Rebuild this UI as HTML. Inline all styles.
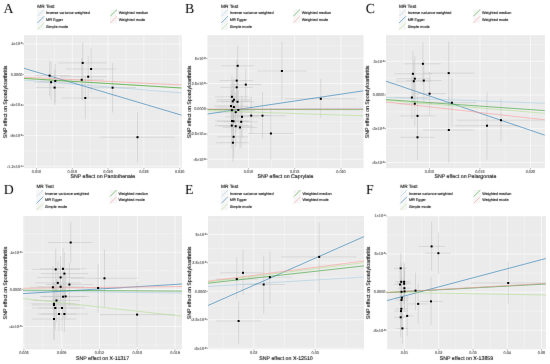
<!DOCTYPE html><html><head><meta charset="utf-8"><style>html,body{margin:0;padding:0;background:#fff;width:550px;height:364px;overflow:hidden;position:relative}svg text{font-family:"Liberation Sans",sans-serif;text-rendering:geometricPrecision;stroke-width:0.1px;}svg text.ser{font-family:"Liberation Serif",serif;stroke:none;text-rendering:geometricPrecision}</style></head><body><svg width="550" height="364" viewBox="0 0 550 364" style="position:absolute;left:0;top:0"><g><rect width="550" height="364" fill="#fff"/><clipPath id="cA"><rect x="24" y="35.1" width="157.7" height="133.1"/></clipPath><rect x="24" y="35.1" width="157.7" height="133.1" fill="#EBEBEB"/><g clip-path="url(#cA)" stroke="#fff"><line x1="54.4" y1="35.1" x2="54.4" y2="168.2" stroke-width="0.3"/><line x1="90.2" y1="35.1" x2="90.2" y2="168.2" stroke-width="0.3"/><line x1="126" y1="35.1" x2="126" y2="168.2" stroke-width="0.3"/><line x1="161.8" y1="35.1" x2="161.8" y2="168.2" stroke-width="0.3"/><line x1="24" y1="59.27" x2="181.7" y2="59.27" stroke-width="0.3"/><line x1="24" y1="89.82" x2="181.7" y2="89.82" stroke-width="0.3"/><line x1="24" y1="120.37" x2="181.7" y2="120.37" stroke-width="0.3"/><line x1="24" y1="150.92" x2="181.7" y2="150.92" stroke-width="0.3"/><line x1="36.5" y1="35.1" x2="36.5" y2="168.2" stroke-width="0.6"/><line x1="72.3" y1="35.1" x2="72.3" y2="168.2" stroke-width="0.6"/><line x1="108.1" y1="35.1" x2="108.1" y2="168.2" stroke-width="0.6"/><line x1="143.9" y1="35.1" x2="143.9" y2="168.2" stroke-width="0.6"/><line x1="179.7" y1="35.1" x2="179.7" y2="168.2" stroke-width="0.6"/><line x1="24" y1="44" x2="181.7" y2="44" stroke-width="0.6"/><line x1="24" y1="74.55" x2="181.7" y2="74.55" stroke-width="0.6"/><line x1="24" y1="105.1" x2="181.7" y2="105.1" stroke-width="0.6"/><line x1="24" y1="135.65" x2="181.7" y2="135.65" stroke-width="0.6"/><line x1="24" y1="166.2" x2="181.7" y2="166.2" stroke-width="0.6"/></g><g clip-path="url(#cA)" stroke="#C2C2C2" stroke-width="0.5"><line x1="49.6" y1="60.7" x2="49.6" y2="96"/><line x1="35" y1="75.6" x2="70" y2="75.6"/><line x1="51.1" y1="62" x2="51.1" y2="100"/><line x1="34" y1="82.2" x2="78" y2="82.2"/><line x1="55.3" y1="64" x2="55.3" y2="103.3"/><line x1="40" y1="81" x2="72" y2="81"/><line x1="54.6" y1="70" x2="54.6" y2="105"/><line x1="36.3" y1="87.6" x2="64.3" y2="87.6"/><line x1="82.7" y1="42.7" x2="82.7" y2="100.5"/><line x1="58" y1="62.9" x2="107" y2="62.9"/><line x1="91.1" y1="47.5" x2="91.1" y2="92.7"/><line x1="65.8" y1="69" x2="115.8" y2="69"/><line x1="88.2" y1="56" x2="88.2" y2="98"/><line x1="60" y1="76.7" x2="107" y2="76.7"/><line x1="81.7" y1="58" x2="81.7" y2="100"/><line x1="56" y1="79.8" x2="104" y2="79.8"/><line x1="85.3" y1="76" x2="85.3" y2="119"/><line x1="62" y1="98" x2="107" y2="98"/><line x1="112.6" y1="63" x2="112.6" y2="112.5"/><line x1="88" y1="87.7" x2="136" y2="87.7"/><line x1="137.5" y1="112" x2="137.5" y2="162.5"/><line x1="99.6" y1="137.2" x2="175" y2="137.2"/></g><g clip-path="url(#cA)" stroke-width="0.95" stroke-opacity="0.62"><line x1="24" y1="80.1" x2="181.7" y2="92.9" stroke="#a6cee3"/><line x1="24" y1="68.3" x2="181.7" y2="115.2" stroke="#1f78b4"/><line x1="24" y1="78.4" x2="181.7" y2="88" stroke="#b2df8a"/><line x1="24" y1="78.4" x2="181.7" y2="88" stroke="#33a02c"/><line x1="24" y1="77.2" x2="181.7" y2="85" stroke="#fb9a99"/></g><rect x="48.6" y="74.6" width="2" height="2" fill="#000"/><rect x="50.1" y="81.2" width="2" height="2" fill="#000"/><rect x="54.3" y="80" width="2" height="2" fill="#000"/><rect x="53.6" y="86.6" width="2" height="2" fill="#000"/><rect x="81.7" y="61.9" width="2" height="2" fill="#000"/><rect x="90.1" y="68" width="2" height="2" fill="#000"/><rect x="87.2" y="75.7" width="2" height="2" fill="#000"/><rect x="80.7" y="78.8" width="2" height="2" fill="#000"/><rect x="84.3" y="97" width="2" height="2" fill="#000"/><rect x="111.6" y="86.7" width="2" height="2" fill="#000"/><rect x="136.5" y="136.2" width="2" height="2" fill="#000"/><line x1="36.5" y1="168.2" x2="36.5" y2="169.4" stroke="#333" stroke-width="0.4"/><line x1="72.3" y1="168.2" x2="72.3" y2="169.4" stroke="#333" stroke-width="0.4"/><line x1="108.1" y1="168.2" x2="108.1" y2="169.4" stroke="#333" stroke-width="0.4"/><line x1="143.9" y1="168.2" x2="143.9" y2="169.4" stroke="#333" stroke-width="0.4"/><line x1="179.7" y1="168.2" x2="179.7" y2="169.4" stroke="#333" stroke-width="0.4"/><line x1="22.8" y1="44" x2="24" y2="44" stroke="#333" stroke-width="0.4"/><line x1="22.8" y1="74.55" x2="24" y2="74.55" stroke="#333" stroke-width="0.4"/><line x1="22.8" y1="105.1" x2="24" y2="105.1" stroke="#333" stroke-width="0.4"/><line x1="22.8" y1="135.65" x2="24" y2="135.65" stroke="#333" stroke-width="0.4"/><line x1="22.8" y1="166.2" x2="24" y2="166.2" stroke="#333" stroke-width="0.4"/><rect x="37.2" y="9.59" width="7.1" height="6.72" fill="#F6F6F6"/><line x1="37.3" y1="16.4" x2="44.2" y2="9.5" stroke="#a6cee3" stroke-width="0.9" stroke-opacity="0.62"/><rect x="37.2" y="16.31" width="7.1" height="6.72" fill="#F6F6F6"/><line x1="37.3" y1="23.12" x2="44.2" y2="16.22" stroke="#1f78b4" stroke-width="0.9" stroke-opacity="0.62"/><rect x="37.2" y="23.03" width="7.1" height="6.72" fill="#F6F6F6"/><line x1="37.3" y1="29.84" x2="44.2" y2="22.94" stroke="#b2df8a" stroke-width="0.9" stroke-opacity="0.62"/><rect x="110" y="9.59" width="7.1" height="6.72" fill="#F6F6F6"/><line x1="110.1" y1="16.4" x2="117" y2="9.5" stroke="#33a02c" stroke-width="0.9" stroke-opacity="0.62"/><rect x="110" y="16.31" width="7.1" height="6.72" fill="#F6F6F6"/><line x1="110.1" y1="23.12" x2="117" y2="16.22" stroke="#fb9a99" stroke-width="0.9" stroke-opacity="0.62"/><clipPath id="cB"><rect x="207.4" y="35.1" width="156.1" height="133.1"/></clipPath><rect x="207.4" y="35.1" width="156.1" height="133.1" fill="#EBEBEB"/><g clip-path="url(#cB)" stroke="#fff"><line x1="225.25" y1="35.1" x2="225.25" y2="168.2" stroke-width="0.3"/><line x1="271.55" y1="35.1" x2="271.55" y2="168.2" stroke-width="0.3"/><line x1="317.85" y1="35.1" x2="317.85" y2="168.2" stroke-width="0.3"/><line x1="207.4" y1="45.79" x2="363.5" y2="45.79" stroke-width="0.3"/><line x1="207.4" y1="71.01" x2="363.5" y2="71.01" stroke-width="0.3"/><line x1="207.4" y1="96.23" x2="363.5" y2="96.23" stroke-width="0.3"/><line x1="207.4" y1="121.45" x2="363.5" y2="121.45" stroke-width="0.3"/><line x1="207.4" y1="146.67" x2="363.5" y2="146.67" stroke-width="0.3"/><line x1="248.4" y1="35.1" x2="248.4" y2="168.2" stroke-width="0.6"/><line x1="294.7" y1="35.1" x2="294.7" y2="168.2" stroke-width="0.6"/><line x1="341" y1="35.1" x2="341" y2="168.2" stroke-width="0.6"/><line x1="207.4" y1="58.4" x2="363.5" y2="58.4" stroke-width="0.6"/><line x1="207.4" y1="83.62" x2="363.5" y2="83.62" stroke-width="0.6"/><line x1="207.4" y1="108.84" x2="363.5" y2="108.84" stroke-width="0.6"/><line x1="207.4" y1="134.06" x2="363.5" y2="134.06" stroke-width="0.6"/><line x1="207.4" y1="159.28" x2="363.5" y2="159.28" stroke-width="0.6"/></g><g clip-path="url(#cB)" stroke="#C2C2C2" stroke-width="0.5"><line x1="237.7" y1="45.6" x2="237.7" y2="88"/><line x1="221.3" y1="65.8" x2="254" y2="65.8"/><line x1="236.7" y1="60" x2="236.7" y2="102"/><line x1="219.4" y1="80.6" x2="253" y2="80.6"/><line x1="245.8" y1="68.7" x2="245.8" y2="102"/><line x1="230" y1="84.6" x2="261.7" y2="84.6"/><line x1="236.7" y1="66" x2="236.7" y2="108"/><line x1="220.4" y1="87.3" x2="253" y2="87.3"/><line x1="231.9" y1="76" x2="231.9" y2="118"/><line x1="215" y1="96.8" x2="249" y2="96.8"/><line x1="234" y1="78" x2="234" y2="121"/><line x1="217" y1="99.7" x2="251" y2="99.7"/><line x1="232.8" y1="80" x2="232.8" y2="123"/><line x1="216" y1="101.3" x2="250" y2="101.3"/><line x1="237.5" y1="82" x2="237.5" y2="122"/><line x1="221" y1="101.8" x2="254" y2="101.8"/><line x1="231" y1="86" x2="231" y2="127"/><line x1="214" y1="106.1" x2="248" y2="106.1"/><line x1="233.9" y1="86" x2="233.9" y2="128"/><line x1="217" y1="107" x2="251" y2="107"/><line x1="231.9" y1="90" x2="231.9" y2="131"/><line x1="215" y1="110.2" x2="249" y2="110.2"/><line x1="238.3" y1="90" x2="238.3" y2="130"/><line x1="221" y1="110" x2="255" y2="110"/><line x1="235.7" y1="92" x2="235.7" y2="133"/><line x1="219" y1="112.2" x2="253" y2="112.2"/><line x1="242" y1="96" x2="242" y2="138"/><line x1="225" y1="116.8" x2="259" y2="116.8"/><line x1="251.2" y1="96" x2="251.2" y2="133.7"/><line x1="232" y1="115.6" x2="270" y2="115.6"/><line x1="262.5" y1="92" x2="262.5" y2="138.5"/><line x1="240" y1="115.7" x2="286" y2="115.7"/><line x1="232" y1="100" x2="232" y2="142"/><line x1="215" y1="121" x2="249" y2="121"/><line x1="233.5" y1="101" x2="233.5" y2="143"/><line x1="217" y1="121.3" x2="250" y2="121.3"/><line x1="241.2" y1="101" x2="241.2" y2="147.5"/><line x1="224" y1="121.8" x2="258" y2="121.8"/><line x1="231.8" y1="104" x2="231.8" y2="148"/><line x1="215" y1="125.6" x2="249" y2="125.6"/><line x1="235.7" y1="106" x2="235.7" y2="147"/><line x1="219" y1="126.2" x2="253" y2="126.2"/><line x1="240" y1="107" x2="240" y2="148"/><line x1="223" y1="127.4" x2="257" y2="127.4"/><line x1="233.6" y1="115" x2="233.6" y2="158"/><line x1="217.3" y1="136.8" x2="248" y2="136.8"/><line x1="232.9" y1="120" x2="232.9" y2="161.9"/><line x1="216" y1="142.7" x2="249" y2="142.7"/><line x1="270.9" y1="107.6" x2="270.9" y2="160"/><line x1="248" y1="133.5" x2="294" y2="133.5"/><line x1="281.9" y1="41.7" x2="281.9" y2="100.4"/><line x1="257" y1="71" x2="307" y2="71"/><line x1="320.8" y1="78.7" x2="320.8" y2="118"/><line x1="285" y1="98.8" x2="356" y2="98.8"/></g><g clip-path="url(#cB)" stroke-width="0.95" stroke-opacity="0.62"><line x1="207.4" y1="109.2" x2="363.5" y2="108.2" stroke="#a6cee3"/><line x1="207.4" y1="114" x2="363.5" y2="90.8" stroke="#1f78b4"/><line x1="207.4" y1="110.6" x2="363.5" y2="115.8" stroke="#b2df8a"/><line x1="207.4" y1="109.5" x2="363.5" y2="109.6" stroke="#33a02c"/><line x1="207.4" y1="109" x2="363.5" y2="108.9" stroke="#fb9a99"/></g><rect x="236.7" y="64.8" width="2" height="2" fill="#000"/><rect x="235.7" y="79.6" width="2" height="2" fill="#000"/><rect x="244.8" y="83.6" width="2" height="2" fill="#000"/><rect x="235.7" y="86.3" width="2" height="2" fill="#000"/><rect x="230.9" y="95.8" width="2" height="2" fill="#000"/><rect x="233" y="98.7" width="2" height="2" fill="#000"/><rect x="231.8" y="100.3" width="2" height="2" fill="#000"/><rect x="236.5" y="100.8" width="2" height="2" fill="#000"/><rect x="230" y="105.1" width="2" height="2" fill="#000"/><rect x="232.9" y="106" width="2" height="2" fill="#000"/><rect x="230.9" y="109.2" width="2" height="2" fill="#000"/><rect x="237.3" y="109" width="2" height="2" fill="#000"/><rect x="234.7" y="111.2" width="2" height="2" fill="#000"/><rect x="241" y="115.8" width="2" height="2" fill="#000"/><rect x="250.2" y="114.6" width="2" height="2" fill="#000"/><rect x="261.5" y="114.7" width="2" height="2" fill="#000"/><rect x="231" y="120" width="2" height="2" fill="#000"/><rect x="232.5" y="120.3" width="2" height="2" fill="#000"/><rect x="240.2" y="120.8" width="2" height="2" fill="#000"/><rect x="230.8" y="124.6" width="2" height="2" fill="#000"/><rect x="234.7" y="125.2" width="2" height="2" fill="#000"/><rect x="239" y="126.4" width="2" height="2" fill="#000"/><rect x="232.6" y="135.8" width="2" height="2" fill="#000"/><rect x="231.9" y="141.7" width="2" height="2" fill="#000"/><rect x="269.9" y="132.5" width="2" height="2" fill="#000"/><rect x="280.9" y="70" width="2" height="2" fill="#000"/><rect x="319.8" y="97.8" width="2" height="2" fill="#000"/><line x1="248.4" y1="168.2" x2="248.4" y2="169.4" stroke="#333" stroke-width="0.4"/><line x1="294.7" y1="168.2" x2="294.7" y2="169.4" stroke="#333" stroke-width="0.4"/><line x1="341" y1="168.2" x2="341" y2="169.4" stroke="#333" stroke-width="0.4"/><line x1="206.2" y1="58.4" x2="207.4" y2="58.4" stroke="#333" stroke-width="0.4"/><line x1="206.2" y1="83.62" x2="207.4" y2="83.62" stroke="#333" stroke-width="0.4"/><line x1="206.2" y1="108.84" x2="207.4" y2="108.84" stroke="#333" stroke-width="0.4"/><line x1="206.2" y1="134.06" x2="207.4" y2="134.06" stroke="#333" stroke-width="0.4"/><line x1="206.2" y1="159.28" x2="207.4" y2="159.28" stroke="#333" stroke-width="0.4"/><rect x="221" y="9.59" width="7.1" height="6.72" fill="#F6F6F6"/><line x1="221.1" y1="16.4" x2="228" y2="9.5" stroke="#a6cee3" stroke-width="0.9" stroke-opacity="0.62"/><rect x="221" y="16.31" width="7.1" height="6.72" fill="#F6F6F6"/><line x1="221.1" y1="23.12" x2="228" y2="16.22" stroke="#1f78b4" stroke-width="0.9" stroke-opacity="0.62"/><rect x="221" y="23.03" width="7.1" height="6.72" fill="#F6F6F6"/><line x1="221.1" y1="29.84" x2="228" y2="22.94" stroke="#b2df8a" stroke-width="0.9" stroke-opacity="0.62"/><rect x="293" y="9.59" width="7.1" height="6.72" fill="#F6F6F6"/><line x1="293.1" y1="16.4" x2="300" y2="9.5" stroke="#33a02c" stroke-width="0.9" stroke-opacity="0.62"/><rect x="293" y="16.31" width="7.1" height="6.72" fill="#F6F6F6"/><line x1="293.1" y1="23.12" x2="300" y2="16.22" stroke="#fb9a99" stroke-width="0.9" stroke-opacity="0.62"/><clipPath id="cC"><rect x="386" y="35.1" width="158.9" height="133.1"/></clipPath><rect x="386" y="35.1" width="158.9" height="133.1" fill="#EBEBEB"/><g clip-path="url(#cC)" stroke="#fff"><line x1="404.27" y1="35.1" x2="404.27" y2="168.2" stroke-width="0.3"/><line x1="454.73" y1="35.1" x2="454.73" y2="168.2" stroke-width="0.3"/><line x1="505.18" y1="35.1" x2="505.18" y2="168.2" stroke-width="0.3"/><line x1="386" y1="44.45" x2="544.9" y2="44.45" stroke-width="0.3"/><line x1="386" y1="78.15" x2="544.9" y2="78.15" stroke-width="0.3"/><line x1="386" y1="111.85" x2="544.9" y2="111.85" stroke-width="0.3"/><line x1="386" y1="145.55" x2="544.9" y2="145.55" stroke-width="0.3"/><line x1="429.5" y1="35.1" x2="429.5" y2="168.2" stroke-width="0.6"/><line x1="479.95" y1="35.1" x2="479.95" y2="168.2" stroke-width="0.6"/><line x1="530.4" y1="35.1" x2="530.4" y2="168.2" stroke-width="0.6"/><line x1="386" y1="61.3" x2="544.9" y2="61.3" stroke-width="0.6"/><line x1="386" y1="95" x2="544.9" y2="95" stroke-width="0.6"/><line x1="386" y1="128.7" x2="544.9" y2="128.7" stroke-width="0.6"/><line x1="386" y1="162.4" x2="544.9" y2="162.4" stroke-width="0.6"/></g><g clip-path="url(#cC)" stroke="#C2C2C2" stroke-width="0.5"><line x1="422.9" y1="42.7" x2="422.9" y2="85"/><line x1="404.2" y1="63.8" x2="440.8" y2="63.8"/><line x1="412.9" y1="51" x2="412.9" y2="96"/><line x1="394.6" y1="73.8" x2="432" y2="73.8"/><line x1="414.8" y1="56" x2="414.8" y2="101"/><line x1="396.5" y1="78.7" x2="431" y2="78.7"/><line x1="413.8" y1="60" x2="413.8" y2="103"/><line x1="396" y1="81.2" x2="431" y2="81.2"/><line x1="423.8" y1="60" x2="423.8" y2="102"/><line x1="406" y1="80.6" x2="441.7" y2="80.6"/><line x1="429.6" y1="71.5" x2="429.6" y2="116"/><line x1="413.8" y1="93.7" x2="446" y2="93.7"/><line x1="411.9" y1="76" x2="411.9" y2="119"/><line x1="395" y1="97.5" x2="429" y2="97.5"/><line x1="414.8" y1="82" x2="414.8" y2="126"/><line x1="398" y1="103.7" x2="432" y2="103.7"/><line x1="417.5" y1="94" x2="417.5" y2="138"/><line x1="400.4" y1="115.9" x2="435.5" y2="115.9"/><line x1="417.5" y1="114" x2="417.5" y2="160"/><line x1="400.4" y1="137.3" x2="434.5" y2="137.3"/><line x1="448.7" y1="41.7" x2="448.7" y2="105"/><line x1="423" y1="73.1" x2="474.6" y2="73.1"/><line x1="451.9" y1="78.3" x2="451.9" y2="127"/><line x1="428" y1="102.7" x2="476" y2="102.7"/><line x1="448.8" y1="97" x2="448.8" y2="162.5"/><line x1="423" y1="130" x2="474" y2="130"/><line x1="487" y1="91.7" x2="487" y2="159.5"/><line x1="454.3" y1="125.7" x2="519" y2="125.7"/><line x1="501" y1="98.5" x2="501" y2="141.4"/><line x1="457" y1="120.2" x2="545" y2="120.2"/></g><g clip-path="url(#cC)" stroke-width="0.95" stroke-opacity="0.62"><line x1="386" y1="97.5" x2="544.9" y2="103.3" stroke="#a6cee3"/><line x1="386" y1="81.2" x2="544.9" y2="135.2" stroke="#1f78b4"/><line x1="386" y1="100.3" x2="544.9" y2="113.3" stroke="#b2df8a"/><line x1="386" y1="99.6" x2="544.9" y2="110.6" stroke="#33a02c"/><line x1="386" y1="102" x2="544.9" y2="119.8" stroke="#fb9a99"/></g><rect x="421.9" y="62.8" width="2" height="2" fill="#000"/><rect x="411.9" y="72.8" width="2" height="2" fill="#000"/><rect x="413.8" y="77.7" width="2" height="2" fill="#000"/><rect x="412.8" y="80.2" width="2" height="2" fill="#000"/><rect x="422.8" y="79.6" width="2" height="2" fill="#000"/><rect x="428.6" y="92.7" width="2" height="2" fill="#000"/><rect x="410.9" y="96.5" width="2" height="2" fill="#000"/><rect x="413.8" y="102.7" width="2" height="2" fill="#000"/><rect x="416.5" y="114.9" width="2" height="2" fill="#000"/><rect x="416.5" y="136.3" width="2" height="2" fill="#000"/><rect x="447.7" y="72.1" width="2" height="2" fill="#000"/><rect x="450.9" y="101.7" width="2" height="2" fill="#000"/><rect x="447.8" y="129" width="2" height="2" fill="#000"/><rect x="486" y="124.7" width="2" height="2" fill="#000"/><rect x="500" y="119.2" width="2" height="2" fill="#000"/><line x1="429.5" y1="168.2" x2="429.5" y2="169.4" stroke="#333" stroke-width="0.4"/><line x1="479.95" y1="168.2" x2="479.95" y2="169.4" stroke="#333" stroke-width="0.4"/><line x1="530.4" y1="168.2" x2="530.4" y2="169.4" stroke="#333" stroke-width="0.4"/><line x1="384.8" y1="61.3" x2="386" y2="61.3" stroke="#333" stroke-width="0.4"/><line x1="384.8" y1="95" x2="386" y2="95" stroke="#333" stroke-width="0.4"/><line x1="384.8" y1="128.7" x2="386" y2="128.7" stroke="#333" stroke-width="0.4"/><line x1="384.8" y1="162.4" x2="386" y2="162.4" stroke="#333" stroke-width="0.4"/><rect x="398.9" y="9.59" width="7.1" height="6.72" fill="#F6F6F6"/><line x1="399" y1="16.4" x2="405.9" y2="9.5" stroke="#a6cee3" stroke-width="0.9" stroke-opacity="0.62"/><rect x="398.9" y="16.31" width="7.1" height="6.72" fill="#F6F6F6"/><line x1="399" y1="23.12" x2="405.9" y2="16.22" stroke="#1f78b4" stroke-width="0.9" stroke-opacity="0.62"/><rect x="398.9" y="23.03" width="7.1" height="6.72" fill="#F6F6F6"/><line x1="399" y1="29.84" x2="405.9" y2="22.94" stroke="#b2df8a" stroke-width="0.9" stroke-opacity="0.62"/><rect x="473.2" y="9.59" width="7.1" height="6.72" fill="#F6F6F6"/><line x1="473.3" y1="16.4" x2="480.2" y2="9.5" stroke="#33a02c" stroke-width="0.9" stroke-opacity="0.62"/><rect x="473.2" y="16.31" width="7.1" height="6.72" fill="#F6F6F6"/><line x1="473.3" y1="23.12" x2="480.2" y2="16.22" stroke="#fb9a99" stroke-width="0.9" stroke-opacity="0.62"/><clipPath id="cD"><rect x="23" y="216" width="159" height="133.4"/></clipPath><rect x="23" y="216" width="159" height="133.4" fill="#EBEBEB"/><g clip-path="url(#cD)" stroke="#fff"><line x1="42.8" y1="216" x2="42.8" y2="349.4" stroke-width="0.3"/><line x1="80.6" y1="216" x2="80.6" y2="349.4" stroke-width="0.3"/><line x1="118.4" y1="216" x2="118.4" y2="349.4" stroke-width="0.3"/><line x1="156.2" y1="216" x2="156.2" y2="349.4" stroke-width="0.3"/><line x1="23" y1="233.78" x2="182" y2="233.78" stroke-width="0.3"/><line x1="23" y1="270.83" x2="182" y2="270.83" stroke-width="0.3"/><line x1="23" y1="307.88" x2="182" y2="307.88" stroke-width="0.3"/><line x1="23" y1="344.93" x2="182" y2="344.93" stroke-width="0.3"/><line x1="23.9" y1="216" x2="23.9" y2="349.4" stroke-width="0.6"/><line x1="61.7" y1="216" x2="61.7" y2="349.4" stroke-width="0.6"/><line x1="99.5" y1="216" x2="99.5" y2="349.4" stroke-width="0.6"/><line x1="137.3" y1="216" x2="137.3" y2="349.4" stroke-width="0.6"/><line x1="175.1" y1="216" x2="175.1" y2="349.4" stroke-width="0.6"/><line x1="23" y1="252.3" x2="182" y2="252.3" stroke-width="0.6"/><line x1="23" y1="289.35" x2="182" y2="289.35" stroke-width="0.6"/><line x1="23" y1="326.4" x2="182" y2="326.4" stroke-width="0.6"/></g><g clip-path="url(#cD)" stroke="#C2C2C2" stroke-width="0.5"><line x1="70.7" y1="221.7" x2="70.7" y2="263"/><line x1="48" y1="242.5" x2="92.5" y2="242.5"/><line x1="55.7" y1="248.7" x2="55.7" y2="290"/><line x1="32.6" y1="269.4" x2="79.7" y2="269.4"/><line x1="63" y1="247.7" x2="63" y2="290"/><line x1="40" y1="268.8" x2="86" y2="268.8"/><line x1="64.4" y1="252" x2="64.4" y2="296"/><line x1="41" y1="273.6" x2="88" y2="273.6"/><line x1="60.6" y1="256" x2="60.6" y2="299"/><line x1="37" y1="277.4" x2="84" y2="277.4"/><line x1="57.8" y1="261" x2="57.8" y2="305"/><line x1="35" y1="282.9" x2="81" y2="282.9"/><line x1="69.4" y1="263" x2="69.4" y2="306"/><line x1="46" y1="284.5" x2="93" y2="284.5"/><line x1="52.9" y1="266" x2="52.9" y2="309"/><line x1="30" y1="287.3" x2="76" y2="287.3"/><line x1="60.6" y1="265" x2="60.6" y2="309"/><line x1="37" y1="286.8" x2="84" y2="286.8"/><line x1="63.1" y1="275" x2="63.1" y2="318"/><line x1="40" y1="296.7" x2="86" y2="296.7"/><line x1="65.6" y1="275" x2="65.6" y2="318"/><line x1="42" y1="296.4" x2="89" y2="296.4"/><line x1="56.5" y1="279" x2="56.5" y2="322"/><line x1="33" y1="300.5" x2="80" y2="300.5"/><line x1="54" y1="282" x2="54" y2="326"/><line x1="31" y1="303.8" x2="77" y2="303.8"/><line x1="54" y1="283" x2="54" y2="339.5"/><line x1="32" y1="305" x2="80" y2="305"/><line x1="55.3" y1="286" x2="55.3" y2="330"/><line x1="32" y1="308" x2="79" y2="308"/><line x1="62" y1="286" x2="62" y2="331"/><line x1="39" y1="308" x2="85" y2="308"/><line x1="59" y1="292" x2="59" y2="331"/><line x1="36.9" y1="314" x2="76.5" y2="314"/><line x1="64.4" y1="292" x2="64.4" y2="332"/><line x1="41" y1="314" x2="88" y2="314"/><line x1="54" y1="297" x2="54" y2="340"/><line x1="32" y1="319" x2="76.5" y2="319"/><line x1="104.5" y1="249.6" x2="104.5" y2="307"/><line x1="71" y1="278.3" x2="137.7" y2="278.3"/><line x1="98.1" y1="264" x2="98.1" y2="313"/><line x1="75" y1="288" x2="121" y2="288"/><line x1="137.1" y1="282" x2="137.1" y2="347"/><line x1="99.6" y1="314.6" x2="175" y2="314.6"/></g><g clip-path="url(#cD)" stroke-width="0.95" stroke-opacity="0.62"><line x1="23" y1="290.9" x2="182" y2="293.1" stroke="#a6cee3"/><line x1="23" y1="293.6" x2="182" y2="284" stroke="#1f78b4"/><line x1="23" y1="298.5" x2="182" y2="316.2" stroke="#b2df8a"/><line x1="23" y1="290.1" x2="182" y2="291.1" stroke="#33a02c"/><line x1="23" y1="288.3" x2="182" y2="286.5" stroke="#fb9a99"/></g><rect x="69.7" y="241.5" width="2" height="2" fill="#000"/><rect x="54.7" y="268.4" width="2" height="2" fill="#000"/><rect x="62" y="267.8" width="2" height="2" fill="#000"/><rect x="63.4" y="272.6" width="2" height="2" fill="#000"/><rect x="59.6" y="276.4" width="2" height="2" fill="#000"/><rect x="56.8" y="281.9" width="2" height="2" fill="#000"/><rect x="68.4" y="283.5" width="2" height="2" fill="#000"/><rect x="51.9" y="286.3" width="2" height="2" fill="#000"/><rect x="59.6" y="285.8" width="2" height="2" fill="#000"/><rect x="62.1" y="295.7" width="2" height="2" fill="#000"/><rect x="64.6" y="295.4" width="2" height="2" fill="#000"/><rect x="55.5" y="299.5" width="2" height="2" fill="#000"/><rect x="53" y="302.8" width="2" height="2" fill="#000"/><rect x="53" y="304" width="2" height="2" fill="#000"/><rect x="54.3" y="307" width="2" height="2" fill="#000"/><rect x="61" y="307" width="2" height="2" fill="#000"/><rect x="58" y="313" width="2" height="2" fill="#000"/><rect x="63.4" y="313" width="2" height="2" fill="#000"/><rect x="53" y="318" width="2" height="2" fill="#000"/><rect x="103.5" y="277.3" width="2" height="2" fill="#000"/><rect x="97.1" y="287" width="2" height="2" fill="#000"/><rect x="136.1" y="313.6" width="2" height="2" fill="#000"/><line x1="23.9" y1="349.4" x2="23.9" y2="350.6" stroke="#333" stroke-width="0.4"/><line x1="61.7" y1="349.4" x2="61.7" y2="350.6" stroke="#333" stroke-width="0.4"/><line x1="99.5" y1="349.4" x2="99.5" y2="350.6" stroke="#333" stroke-width="0.4"/><line x1="137.3" y1="349.4" x2="137.3" y2="350.6" stroke="#333" stroke-width="0.4"/><line x1="175.1" y1="349.4" x2="175.1" y2="350.6" stroke="#333" stroke-width="0.4"/><line x1="21.8" y1="252.3" x2="23" y2="252.3" stroke="#333" stroke-width="0.4"/><line x1="21.8" y1="289.35" x2="23" y2="289.35" stroke="#333" stroke-width="0.4"/><line x1="21.8" y1="326.4" x2="23" y2="326.4" stroke="#333" stroke-width="0.4"/><rect x="36.3" y="189.99" width="7.1" height="6.72" fill="#F6F6F6"/><line x1="36.4" y1="196.8" x2="43.3" y2="189.9" stroke="#a6cee3" stroke-width="0.9" stroke-opacity="0.62"/><rect x="36.3" y="196.71" width="7.1" height="6.72" fill="#F6F6F6"/><line x1="36.4" y1="203.52" x2="43.3" y2="196.62" stroke="#1f78b4" stroke-width="0.9" stroke-opacity="0.62"/><rect x="36.3" y="203.43" width="7.1" height="6.72" fill="#F6F6F6"/><line x1="36.4" y1="210.24" x2="43.3" y2="203.34" stroke="#b2df8a" stroke-width="0.9" stroke-opacity="0.62"/><rect x="109.7" y="189.99" width="7.1" height="6.72" fill="#F6F6F6"/><line x1="109.8" y1="196.8" x2="116.7" y2="189.9" stroke="#33a02c" stroke-width="0.9" stroke-opacity="0.62"/><rect x="109.7" y="196.71" width="7.1" height="6.72" fill="#F6F6F6"/><line x1="109.8" y1="203.52" x2="116.7" y2="196.62" stroke="#fb9a99" stroke-width="0.9" stroke-opacity="0.62"/><clipPath id="cE"><rect x="208" y="216" width="156" height="133.3"/></clipPath><rect x="208" y="216" width="156" height="133.3" fill="#EBEBEB"/><g clip-path="url(#cE)" stroke="#fff"><line x1="223.1" y1="216" x2="223.1" y2="349.3" stroke-width="0.3"/><line x1="284.5" y1="216" x2="284.5" y2="349.3" stroke-width="0.3"/><line x1="345.9" y1="216" x2="345.9" y2="349.3" stroke-width="0.3"/><line x1="208" y1="220.18" x2="364" y2="220.18" stroke-width="0.3"/><line x1="208" y1="248.62" x2="364" y2="248.62" stroke-width="0.3"/><line x1="208" y1="277.08" x2="364" y2="277.08" stroke-width="0.3"/><line x1="208" y1="305.53" x2="364" y2="305.53" stroke-width="0.3"/><line x1="208" y1="333.98" x2="364" y2="333.98" stroke-width="0.3"/><line x1="253.8" y1="216" x2="253.8" y2="349.3" stroke-width="0.6"/><line x1="315.2" y1="216" x2="315.2" y2="349.3" stroke-width="0.6"/><line x1="208" y1="234.4" x2="364" y2="234.4" stroke-width="0.6"/><line x1="208" y1="262.85" x2="364" y2="262.85" stroke-width="0.6"/><line x1="208" y1="291.3" x2="364" y2="291.3" stroke-width="0.6"/><line x1="208" y1="319.75" x2="364" y2="319.75" stroke-width="0.6"/><line x1="208" y1="348.2" x2="364" y2="348.2" stroke-width="0.6"/></g><g clip-path="url(#cE)" stroke="#C2C2C2" stroke-width="0.5"><line x1="243" y1="249.6" x2="243" y2="295"/><line x1="220.4" y1="272.8" x2="263" y2="272.8"/><line x1="236.8" y1="257.3" x2="236.8" y2="298.6"/><line x1="216" y1="279.1" x2="258" y2="279.1"/><line x1="269.9" y1="251.5" x2="269.9" y2="304"/><line x1="248" y1="277.2" x2="292" y2="277.2"/><line x1="263.7" y1="255.4" x2="263.7" y2="314"/><line x1="242" y1="284.5" x2="285" y2="284.5"/><line x1="238.6" y1="300.8" x2="238.6" y2="343.6"/><line x1="216" y1="321" x2="261" y2="321"/><line x1="319.2" y1="222.7" x2="319.2" y2="292.5"/><line x1="281" y1="256.9" x2="356.2" y2="256.9"/></g><g clip-path="url(#cE)" stroke-width="0.95" stroke-opacity="0.62"><line x1="208" y1="286.5" x2="364" y2="277" stroke="#a6cee3"/><line x1="208" y1="305.5" x2="364" y2="236.6" stroke="#1f78b4"/><line x1="208" y1="281.9" x2="364" y2="262.6" stroke="#b2df8a"/><line x1="208" y1="283.2" x2="364" y2="265.9" stroke="#33a02c"/><line x1="208" y1="281.2" x2="364" y2="261" stroke="#fb9a99"/></g><rect x="242" y="271.8" width="2" height="2" fill="#000"/><rect x="235.8" y="278.1" width="2" height="2" fill="#000"/><rect x="268.9" y="276.2" width="2" height="2" fill="#000"/><rect x="262.7" y="283.5" width="2" height="2" fill="#000"/><rect x="237.6" y="320" width="2" height="2" fill="#000"/><rect x="318.2" y="255.9" width="2" height="2" fill="#000"/><line x1="253.8" y1="349.3" x2="253.8" y2="350.5" stroke="#333" stroke-width="0.4"/><line x1="315.2" y1="349.3" x2="315.2" y2="350.5" stroke="#333" stroke-width="0.4"/><line x1="206.8" y1="234.4" x2="208" y2="234.4" stroke="#333" stroke-width="0.4"/><line x1="206.8" y1="262.85" x2="208" y2="262.85" stroke="#333" stroke-width="0.4"/><line x1="206.8" y1="291.3" x2="208" y2="291.3" stroke="#333" stroke-width="0.4"/><line x1="206.8" y1="319.75" x2="208" y2="319.75" stroke="#333" stroke-width="0.4"/><line x1="206.8" y1="348.2" x2="208" y2="348.2" stroke="#333" stroke-width="0.4"/><rect x="221" y="189.99" width="7.1" height="6.72" fill="#F6F6F6"/><line x1="221.1" y1="196.8" x2="228" y2="189.9" stroke="#a6cee3" stroke-width="0.9" stroke-opacity="0.62"/><rect x="221" y="196.71" width="7.1" height="6.72" fill="#F6F6F6"/><line x1="221.1" y1="203.52" x2="228" y2="196.62" stroke="#1f78b4" stroke-width="0.9" stroke-opacity="0.62"/><rect x="221" y="203.43" width="7.1" height="6.72" fill="#F6F6F6"/><line x1="221.1" y1="210.24" x2="228" y2="203.34" stroke="#b2df8a" stroke-width="0.9" stroke-opacity="0.62"/><rect x="293.6" y="189.99" width="7.1" height="6.72" fill="#F6F6F6"/><line x1="293.7" y1="196.8" x2="300.6" y2="189.9" stroke="#33a02c" stroke-width="0.9" stroke-opacity="0.62"/><rect x="293.6" y="196.71" width="7.1" height="6.72" fill="#F6F6F6"/><line x1="293.7" y1="203.52" x2="300.6" y2="196.62" stroke="#fb9a99" stroke-width="0.9" stroke-opacity="0.62"/><clipPath id="cF"><rect x="387" y="216" width="158.9" height="133.3"/></clipPath><rect x="387" y="216" width="158.9" height="133.3" fill="#EBEBEB"/><g clip-path="url(#cF)" stroke="#fff"><line x1="387.26" y1="216" x2="387.26" y2="349.3" stroke-width="0.3"/><line x1="421.54" y1="216" x2="421.54" y2="349.3" stroke-width="0.3"/><line x1="455.82" y1="216" x2="455.82" y2="349.3" stroke-width="0.3"/><line x1="490.1" y1="216" x2="490.1" y2="349.3" stroke-width="0.3"/><line x1="524.38" y1="216" x2="524.38" y2="349.3" stroke-width="0.3"/><line x1="387" y1="234.95" x2="545.9" y2="234.95" stroke-width="0.3"/><line x1="387" y1="273.05" x2="545.9" y2="273.05" stroke-width="0.3"/><line x1="387" y1="311.15" x2="545.9" y2="311.15" stroke-width="0.3"/><line x1="387" y1="349.25" x2="545.9" y2="349.25" stroke-width="0.3"/><line x1="404.4" y1="216" x2="404.4" y2="349.3" stroke-width="0.6"/><line x1="438.68" y1="216" x2="438.68" y2="349.3" stroke-width="0.6"/><line x1="472.96" y1="216" x2="472.96" y2="349.3" stroke-width="0.6"/><line x1="507.24" y1="216" x2="507.24" y2="349.3" stroke-width="0.6"/><line x1="541.52" y1="216" x2="541.52" y2="349.3" stroke-width="0.6"/><line x1="387" y1="215.9" x2="545.9" y2="215.9" stroke-width="0.6"/><line x1="387" y1="254" x2="545.9" y2="254" stroke-width="0.6"/><line x1="387" y1="292.1" x2="545.9" y2="292.1" stroke-width="0.6"/><line x1="387" y1="330.2" x2="545.9" y2="330.2" stroke-width="0.6"/></g><g clip-path="url(#cF)" stroke="#C2C2C2" stroke-width="0.5"><line x1="431.6" y1="221.8" x2="431.6" y2="271"/><line x1="418.3" y1="246.4" x2="444.8" y2="246.4"/><line x1="438.4" y1="232.4" x2="438.4" y2="274"/><line x1="425.1" y1="253.2" x2="450.8" y2="253.2"/><line x1="400.7" y1="253.6" x2="400.7" y2="283"/><line x1="394" y1="268.3" x2="407" y2="268.3"/><line x1="401.2" y1="262" x2="401.2" y2="302"/><line x1="395" y1="281.8" x2="408" y2="281.8"/><line x1="404.1" y1="262" x2="404.1" y2="302"/><line x1="397" y1="281.8" x2="411" y2="281.8"/><line x1="404.1" y1="264" x2="404.1" y2="304"/><line x1="397" y1="283.7" x2="411" y2="283.7"/><line x1="400.1" y1="265" x2="400.1" y2="305"/><line x1="394" y1="284.5" x2="407" y2="284.5"/><line x1="404.4" y1="268" x2="404.4" y2="308"/><line x1="398" y1="288.2" x2="411" y2="288.2"/><line x1="401.5" y1="271" x2="401.5" y2="312"/><line x1="395" y1="291.8" x2="408" y2="291.8"/><line x1="404.5" y1="271" x2="404.5" y2="312"/><line x1="398" y1="291.4" x2="411" y2="291.4"/><line x1="415.5" y1="272.7" x2="415.5" y2="310"/><line x1="405" y1="290.6" x2="426" y2="290.6"/><line x1="401.9" y1="278" x2="401.9" y2="318"/><line x1="395" y1="297.8" x2="409" y2="297.8"/><line x1="401.5" y1="280" x2="401.5" y2="320"/><line x1="395" y1="300" x2="408" y2="300"/><line x1="418.2" y1="284" x2="418.2" y2="323.8"/><line x1="408.5" y1="303.9" x2="428.5" y2="303.9"/><line x1="401.3" y1="289" x2="401.3" y2="329"/><line x1="395" y1="308.8" x2="408" y2="308.8"/><line x1="401" y1="291" x2="401" y2="331"/><line x1="394" y1="311.1" x2="408" y2="311.1"/><line x1="407.2" y1="296" x2="407.2" y2="336"/><line x1="402.4" y1="315.9" x2="413.4" y2="315.9"/><line x1="400.7" y1="297" x2="400.7" y2="337"/><line x1="394" y1="317.3" x2="407" y2="317.3"/><line x1="402.4" y1="313" x2="402.4" y2="343.8"/><line x1="395.5" y1="328.4" x2="408.5" y2="328.4"/><line x1="431" y1="276.6" x2="431" y2="325"/><line x1="420" y1="301.4" x2="443" y2="301.4"/><line x1="508.2" y1="262" x2="508.2" y2="303.9"/><line x1="471" y1="283" x2="545.6" y2="283"/></g><g clip-path="url(#cF)" stroke-width="0.95" stroke-opacity="0.62"><line x1="387" y1="292.7" x2="545.9" y2="283.6" stroke="#a6cee3"/><line x1="387" y1="300.6" x2="545.9" y2="258.5" stroke="#1f78b4"/><line x1="387" y1="292.2" x2="545.9" y2="295" stroke="#b2df8a"/><line x1="387" y1="292.6" x2="545.9" y2="284" stroke="#33a02c"/><line x1="387" y1="292.5" x2="545.9" y2="283.4" stroke="#fb9a99"/></g><rect x="430.6" y="245.4" width="2" height="2" fill="#000"/><rect x="437.4" y="252.2" width="2" height="2" fill="#000"/><rect x="399.7" y="267.3" width="2" height="2" fill="#000"/><rect x="400.2" y="280.8" width="2" height="2" fill="#000"/><rect x="403.1" y="280.8" width="2" height="2" fill="#000"/><rect x="403.1" y="282.7" width="2" height="2" fill="#000"/><rect x="399.1" y="283.5" width="2" height="2" fill="#000"/><rect x="403.4" y="287.2" width="2" height="2" fill="#000"/><rect x="400.5" y="290.8" width="2" height="2" fill="#000"/><rect x="403.5" y="290.4" width="2" height="2" fill="#000"/><rect x="414.5" y="289.6" width="2" height="2" fill="#000"/><rect x="400.9" y="296.8" width="2" height="2" fill="#000"/><rect x="400.5" y="299" width="2" height="2" fill="#000"/><rect x="417.2" y="302.9" width="2" height="2" fill="#000"/><rect x="400.3" y="307.8" width="2" height="2" fill="#000"/><rect x="400" y="310.1" width="2" height="2" fill="#000"/><rect x="406.2" y="314.9" width="2" height="2" fill="#000"/><rect x="399.7" y="316.3" width="2" height="2" fill="#000"/><rect x="401.4" y="327.4" width="2" height="2" fill="#000"/><rect x="430" y="300.4" width="2" height="2" fill="#000"/><rect x="507.2" y="282" width="2" height="2" fill="#000"/><line x1="404.4" y1="349.3" x2="404.4" y2="350.5" stroke="#333" stroke-width="0.4"/><line x1="438.68" y1="349.3" x2="438.68" y2="350.5" stroke="#333" stroke-width="0.4"/><line x1="472.96" y1="349.3" x2="472.96" y2="350.5" stroke="#333" stroke-width="0.4"/><line x1="507.24" y1="349.3" x2="507.24" y2="350.5" stroke="#333" stroke-width="0.4"/><line x1="541.52" y1="349.3" x2="541.52" y2="350.5" stroke="#333" stroke-width="0.4"/><line x1="385.8" y1="215.9" x2="387" y2="215.9" stroke="#333" stroke-width="0.4"/><line x1="385.8" y1="254" x2="387" y2="254" stroke="#333" stroke-width="0.4"/><line x1="385.8" y1="292.1" x2="387" y2="292.1" stroke="#333" stroke-width="0.4"/><line x1="385.8" y1="330.2" x2="387" y2="330.2" stroke="#333" stroke-width="0.4"/><rect x="400.1" y="189.99" width="7.1" height="6.72" fill="#F6F6F6"/><line x1="400.2" y1="196.8" x2="407.1" y2="189.9" stroke="#a6cee3" stroke-width="0.9" stroke-opacity="0.62"/><rect x="400.1" y="196.71" width="7.1" height="6.72" fill="#F6F6F6"/><line x1="400.2" y1="203.52" x2="407.1" y2="196.62" stroke="#1f78b4" stroke-width="0.9" stroke-opacity="0.62"/><rect x="400.1" y="203.43" width="7.1" height="6.72" fill="#F6F6F6"/><line x1="400.2" y1="210.24" x2="407.1" y2="203.34" stroke="#b2df8a" stroke-width="0.9" stroke-opacity="0.62"/><rect x="473.4" y="189.99" width="7.1" height="6.72" fill="#F6F6F6"/><line x1="473.5" y1="196.8" x2="480.4" y2="189.9" stroke="#33a02c" stroke-width="0.9" stroke-opacity="0.62"/><rect x="473.4" y="196.71" width="7.1" height="6.72" fill="#F6F6F6"/><line x1="473.5" y1="203.52" x2="480.4" y2="196.62" stroke="#fb9a99" stroke-width="0.9" stroke-opacity="0.62"/></g><defs><filter id="tb" x="0" y="0" width="550" height="364" filterUnits="userSpaceOnUse"><feConvolveMatrix order="3" kernelMatrix="0 1 0 1 10 1 0 1 0" edgeMode="none"/></filter></defs><g class="txt" filter="url(#tb)"><text x="36.5" y="173.2" font-size="3.8" fill="#4D4D4D" stroke="#4D4D4D" text-anchor="middle">0.010</text><text x="72.3" y="173.2" font-size="3.8" fill="#4D4D4D" stroke="#4D4D4D" text-anchor="middle">0.015</text><text x="108.1" y="173.2" font-size="3.8" fill="#4D4D4D" stroke="#4D4D4D" text-anchor="middle">0.020</text><text x="143.9" y="173.2" font-size="3.8" fill="#4D4D4D" stroke="#4D4D4D" text-anchor="middle">0.025</text><text x="179.7" y="173.2" font-size="3.8" fill="#4D4D4D" stroke="#4D4D4D" text-anchor="middle">0.030</text><text x="22.4" y="45.35" font-size="3.8" fill="#4D4D4D" stroke="#4D4D4D" text-anchor="end">4×10<tspan font-size="2.66" dy="-0.9">-5</tspan></text><text x="22.4" y="75.9" font-size="3.8" fill="#4D4D4D" stroke="#4D4D4D" text-anchor="end">0.0000</text><text x="22.4" y="106.45" font-size="3.8" fill="#4D4D4D" stroke="#4D4D4D" text-anchor="end">-4×10<tspan font-size="2.66" dy="-0.9">-5</tspan></text><text x="22.4" y="137" font-size="3.8" fill="#4D4D4D" stroke="#4D4D4D" text-anchor="end">-8×10<tspan font-size="2.66" dy="-0.9">-5</tspan></text><text x="22.4" y="167.55" font-size="3.8" fill="#4D4D4D" stroke="#4D4D4D" text-anchor="end">-1.2×10<tspan font-size="2.66" dy="-0.9">-4</tspan></text><text x="102.85" y="178.4" font-size="5.25" fill="#000" stroke="#000" text-anchor="middle">SNP effect on Pantothenate</text><text x="7.5" y="101.95" font-size="5.25" fill="#000" stroke="#000" text-anchor="middle" transform="rotate(-90 7.5 101.95)">SNP effect on Spondyloarthritis</text><text x="3.4" y="12.9" class="ser" font-size="13.8" fill="#000">A</text><text x="37.3" y="7.8" font-size="4.75" fill="#000" stroke="#000">MR Test</text><text x="46" y="14.3" font-size="3.77" fill="#000" stroke="#000">Inverse variance weighted</text><text x="46" y="21.02" font-size="3.77" fill="#000" stroke="#000">MR Egger</text><text x="46" y="27.74" font-size="3.77" fill="#000" stroke="#000">Simple mode</text><text x="118.8" y="14.3" font-size="3.77" fill="#000" stroke="#000">Weighted median</text><text x="118.8" y="21.02" font-size="3.77" fill="#000" stroke="#000">Weighted mode</text><text x="248.4" y="173.2" font-size="3.8" fill="#4D4D4D" stroke="#4D4D4D" text-anchor="middle">0.010</text><text x="294.7" y="173.2" font-size="3.8" fill="#4D4D4D" stroke="#4D4D4D" text-anchor="middle">0.015</text><text x="341" y="173.2" font-size="3.8" fill="#4D4D4D" stroke="#4D4D4D" text-anchor="middle">0.020</text><text x="205.8" y="59.75" font-size="3.8" fill="#4D4D4D" stroke="#4D4D4D" text-anchor="end">5×10<tspan font-size="2.66" dy="-0.9">-5</tspan></text><text x="205.8" y="84.97" font-size="3.8" fill="#4D4D4D" stroke="#4D4D4D" text-anchor="end">2.5×10<tspan font-size="2.66" dy="-0.9">-5</tspan></text><text x="205.8" y="110.19" font-size="3.8" fill="#4D4D4D" stroke="#4D4D4D" text-anchor="end">0.0000</text><text x="205.8" y="135.41" font-size="3.8" fill="#4D4D4D" stroke="#4D4D4D" text-anchor="end">-2.5×10<tspan font-size="2.66" dy="-0.9">-5</tspan></text><text x="205.8" y="160.63" font-size="3.8" fill="#4D4D4D" stroke="#4D4D4D" text-anchor="end">-5×10<tspan font-size="2.66" dy="-0.9">-5</tspan></text><text x="285.45" y="178.4" font-size="5.25" fill="#000" stroke="#000" text-anchor="middle">SNP effect on Caprylate</text><text x="190.9" y="101.95" font-size="5.25" fill="#000" stroke="#000" text-anchor="middle" transform="rotate(-90 190.9 101.95)">SNP effect on Spondyloarthritis</text><text x="185.1" y="12.9" class="ser" font-size="13.8" fill="#000">B</text><text x="221.1" y="7.8" font-size="4.75" fill="#000" stroke="#000">MR Test</text><text x="229.8" y="14.3" font-size="3.77" fill="#000" stroke="#000">Inverse variance weighted</text><text x="229.8" y="21.02" font-size="3.77" fill="#000" stroke="#000">MR Egger</text><text x="229.8" y="27.74" font-size="3.77" fill="#000" stroke="#000">Simple mode</text><text x="301.8" y="14.3" font-size="3.77" fill="#000" stroke="#000">Weighted median</text><text x="301.8" y="21.02" font-size="3.77" fill="#000" stroke="#000">Weighted mode</text><text x="429.5" y="173.2" font-size="3.8" fill="#4D4D4D" stroke="#4D4D4D" text-anchor="middle">0.010</text><text x="479.95" y="173.2" font-size="3.8" fill="#4D4D4D" stroke="#4D4D4D" text-anchor="middle">0.015</text><text x="530.4" y="173.2" font-size="3.8" fill="#4D4D4D" stroke="#4D4D4D" text-anchor="middle">0.020</text><text x="384.4" y="62.65" font-size="3.8" fill="#4D4D4D" stroke="#4D4D4D" text-anchor="end">3×10<tspan font-size="2.66" dy="-0.9">-5</tspan></text><text x="384.4" y="96.35" font-size="3.8" fill="#4D4D4D" stroke="#4D4D4D" text-anchor="end">0.0000</text><text x="384.4" y="130.05" font-size="3.8" fill="#4D4D4D" stroke="#4D4D4D" text-anchor="end">-3×10<tspan font-size="2.66" dy="-0.9">-5</tspan></text><text x="384.4" y="163.75" font-size="3.8" fill="#4D4D4D" stroke="#4D4D4D" text-anchor="end">-6×10<tspan font-size="2.66" dy="-0.9">-5</tspan></text><text x="465.45" y="178.4" font-size="5.25" fill="#000" stroke="#000" text-anchor="middle">SNP effect on Pelargonate</text><text x="369.5" y="101.95" font-size="5.25" fill="#000" stroke="#000" text-anchor="middle" transform="rotate(-90 369.5 101.95)">SNP effect on Spondyloarthritis</text><text x="365.7" y="13.1" class="ser" font-size="13.8" fill="#000">C</text><text x="399" y="7.8" font-size="4.75" fill="#000" stroke="#000">MR Test</text><text x="407.7" y="14.3" font-size="3.77" fill="#000" stroke="#000">Inverse variance weighted</text><text x="407.7" y="21.02" font-size="3.77" fill="#000" stroke="#000">MR Egger</text><text x="407.7" y="27.74" font-size="3.77" fill="#000" stroke="#000">Simple mode</text><text x="482" y="14.3" font-size="3.77" fill="#000" stroke="#000">Weighted median</text><text x="482" y="21.02" font-size="3.77" fill="#000" stroke="#000">Weighted mode</text><text x="23.9" y="354.4" font-size="3.8" fill="#4D4D4D" stroke="#4D4D4D" text-anchor="middle">0.006</text><text x="61.7" y="354.4" font-size="3.8" fill="#4D4D4D" stroke="#4D4D4D" text-anchor="middle">0.009</text><text x="99.5" y="354.4" font-size="3.8" fill="#4D4D4D" stroke="#4D4D4D" text-anchor="middle">0.012</text><text x="137.3" y="354.4" font-size="3.8" fill="#4D4D4D" stroke="#4D4D4D" text-anchor="middle">0.015</text><text x="175.1" y="354.4" font-size="3.8" fill="#4D4D4D" stroke="#4D4D4D" text-anchor="middle">0.018</text><text x="21.4" y="253.65" font-size="3.8" fill="#4D4D4D" stroke="#4D4D4D" text-anchor="end">4×10<tspan font-size="2.66" dy="-0.9">-5</tspan></text><text x="21.4" y="290.7" font-size="3.8" fill="#4D4D4D" stroke="#4D4D4D" text-anchor="end">0.0000</text><text x="21.4" y="327.75" font-size="3.8" fill="#4D4D4D" stroke="#4D4D4D" text-anchor="end">-4×10<tspan font-size="2.66" dy="-0.9">-5</tspan></text><text x="102.5" y="359.6" font-size="5.25" fill="#000" stroke="#000" text-anchor="middle">SNP effect on X-11317</text><text x="6.5" y="283" font-size="5.25" fill="#000" stroke="#000" text-anchor="middle" transform="rotate(-90 6.5 283)">SNP effect on Spondyloarthritis</text><text x="3.8" y="193.8" class="ser" font-size="13.8" fill="#000">D</text><text x="36.4" y="188.2" font-size="4.75" fill="#000" stroke="#000">MR Test</text><text x="45.1" y="194.7" font-size="3.77" fill="#000" stroke="#000">Inverse variance weighted</text><text x="45.1" y="201.42" font-size="3.77" fill="#000" stroke="#000">MR Egger</text><text x="45.1" y="208.14" font-size="3.77" fill="#000" stroke="#000">Simple mode</text><text x="118.5" y="194.7" font-size="3.77" fill="#000" stroke="#000">Weighted median</text><text x="118.5" y="201.42" font-size="3.77" fill="#000" stroke="#000">Weighted mode</text><text x="253.8" y="354.3" font-size="3.8" fill="#4D4D4D" stroke="#4D4D4D" text-anchor="middle">0.02</text><text x="315.2" y="354.3" font-size="3.8" fill="#4D4D4D" stroke="#4D4D4D" text-anchor="middle">0.03</text><text x="206.4" y="235.75" font-size="3.8" fill="#4D4D4D" stroke="#4D4D4D" text-anchor="end">5×10<tspan font-size="2.66" dy="-0.9">-5</tspan></text><text x="206.4" y="264.2" font-size="3.8" fill="#4D4D4D" stroke="#4D4D4D" text-anchor="end">2.5×10<tspan font-size="2.66" dy="-0.9">-5</tspan></text><text x="206.4" y="292.65" font-size="3.8" fill="#4D4D4D" stroke="#4D4D4D" text-anchor="end">0.0000</text><text x="206.4" y="321.1" font-size="3.8" fill="#4D4D4D" stroke="#4D4D4D" text-anchor="end">-2.5×10<tspan font-size="2.66" dy="-0.9">-5</tspan></text><text x="206.4" y="349.55" font-size="3.8" fill="#4D4D4D" stroke="#4D4D4D" text-anchor="end">-5×10<tspan font-size="2.66" dy="-0.9">-5</tspan></text><text x="286" y="359.5" font-size="5.25" fill="#000" stroke="#000" text-anchor="middle">SNP effect on X-12510</text><text x="191.5" y="282.95" font-size="5.25" fill="#000" stroke="#000" text-anchor="middle" transform="rotate(-90 191.5 282.95)">SNP effect on Spondyloarthritis</text><text x="185" y="193.8" class="ser" font-size="13.8" fill="#000">E</text><text x="221.1" y="188.2" font-size="4.75" fill="#000" stroke="#000">MR Test</text><text x="229.8" y="194.7" font-size="3.77" fill="#000" stroke="#000">Inverse variance weighted</text><text x="229.8" y="201.42" font-size="3.77" fill="#000" stroke="#000">MR Egger</text><text x="229.8" y="208.14" font-size="3.77" fill="#000" stroke="#000">Simple mode</text><text x="302.4" y="194.7" font-size="3.77" fill="#000" stroke="#000">Weighted median</text><text x="302.4" y="201.42" font-size="3.77" fill="#000" stroke="#000">Weighted mode</text><text x="404.4" y="354.3" font-size="3.8" fill="#4D4D4D" stroke="#4D4D4D" text-anchor="middle">0.01</text><text x="438.68" y="354.3" font-size="3.8" fill="#4D4D4D" stroke="#4D4D4D" text-anchor="middle">0.02</text><text x="472.96" y="354.3" font-size="3.8" fill="#4D4D4D" stroke="#4D4D4D" text-anchor="middle">0.03</text><text x="507.24" y="354.3" font-size="3.8" fill="#4D4D4D" stroke="#4D4D4D" text-anchor="middle">0.04</text><text x="541.52" y="354.3" font-size="3.8" fill="#4D4D4D" stroke="#4D4D4D" text-anchor="middle">0.05</text><text x="385.4" y="217.25" font-size="3.8" fill="#4D4D4D" stroke="#4D4D4D" text-anchor="end">1×10<tspan font-size="2.66" dy="-0.9">-4</tspan></text><text x="385.4" y="255.35" font-size="3.8" fill="#4D4D4D" stroke="#4D4D4D" text-anchor="end">5×10<tspan font-size="2.66" dy="-0.9">-5</tspan></text><text x="385.4" y="293.45" font-size="3.8" fill="#4D4D4D" stroke="#4D4D4D" text-anchor="end">0.0000</text><text x="385.4" y="331.55" font-size="3.8" fill="#4D4D4D" stroke="#4D4D4D" text-anchor="end">-5×10<tspan font-size="2.66" dy="-0.9">-5</tspan></text><text x="466.45" y="359.5" font-size="5.25" fill="#000" stroke="#000" text-anchor="middle">SNP effect on X-13859</text><text x="370.5" y="282.95" font-size="5.25" fill="#000" stroke="#000" text-anchor="middle" transform="rotate(-90 370.5 282.95)">SNP effect on Spondyloarthritis</text><text x="366" y="193.8" class="ser" font-size="13.8" fill="#000">F</text><text x="400.2" y="188.2" font-size="4.75" fill="#000" stroke="#000">MR Test</text><text x="408.9" y="194.7" font-size="3.77" fill="#000" stroke="#000">Inverse variance weighted</text><text x="408.9" y="201.42" font-size="3.77" fill="#000" stroke="#000">MR Egger</text><text x="408.9" y="208.14" font-size="3.77" fill="#000" stroke="#000">Simple mode</text><text x="482.2" y="194.7" font-size="3.77" fill="#000" stroke="#000">Weighted median</text><text x="482.2" y="201.42" font-size="3.77" fill="#000" stroke="#000">Weighted mode</text></g></svg></body></html>
